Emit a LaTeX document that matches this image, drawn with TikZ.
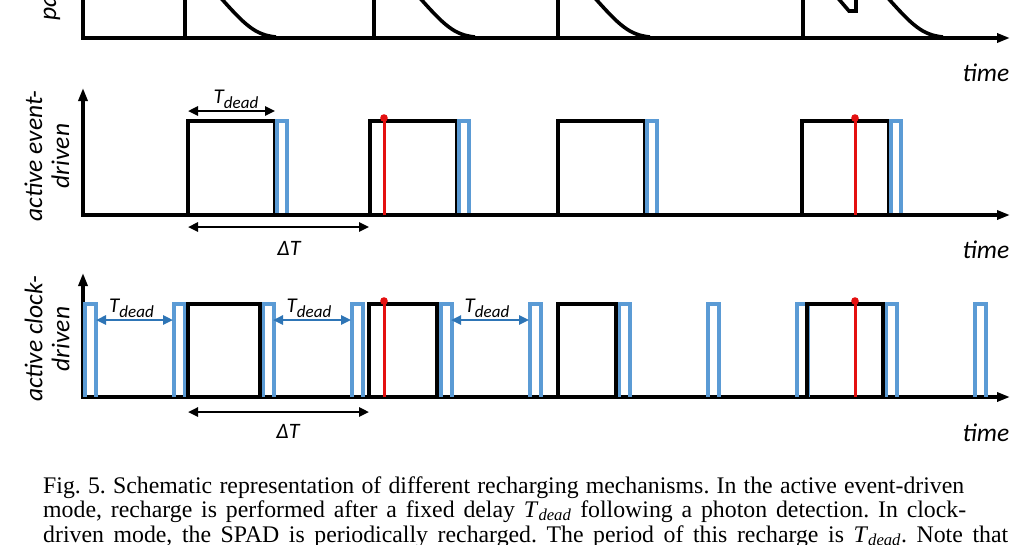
\documentclass[tikz,border=0pt]{standalone}
\usepackage{fontspec}
\setmainfont{Liberation Serif}
\newfontfamily\slidefont{Carlito}
\usetikzlibrary{arrows.meta}
\frenchspacing

\definecolor{rechargeblue}{RGB}{91,155,213}
\definecolor{spanblue}{RGB}{46,117,182}
\definecolor{photonred}{RGB}{228,16,16}

\begin{document}
\begin{tikzpicture}[x=1pt,y=-1pt,
    axes/.style={line width=3.2pt,{Triangle[length=13pt,width=9pt]}-{Triangle[length=13pt,width=9pt]}},
    pulse/.style={line width=3.2pt},
    recharge/.style={line width=3.2pt,rechargeblue},
    photon/.style={line width=3pt,photonred},
    span/.style={line width=2.4pt,{Triangle[length=10pt,width=9pt]}-{Triangle[length=10pt,width=9pt]}},
    axlabel/.style={font=\slidefont\itshape\fontsize{25.5}{27}\selectfont,inner sep=0pt,align=center},
    deadlabel/.style={font=\slidefont\itshape\fontsize{21}{21}\selectfont,inner sep=0pt},
    caption/.style={anchor=base west,inner sep=0pt,font=\fontsize{23.8}{26}\selectfont}]
  \useasboundingbox (0,0) rectangle (1036,544);
  \clip (0,0) rectangle (1036,544);

  % passive quenching
  \draw[line width=3.6pt,-{Triangle[length=13pt,width=9pt]}] (83,-10) |- (1010,38);
  \node[axlabel,rotate=90,anchor=base west] (ylabA) at (56,21) {passive};
  \foreach \s/\c in {185/220, 374/419, 558/594, 803/887} {
    \draw[line width=3.6pt] (\s,36) -- (\s,-5);
    \draw[line width=3.6pt] (\c,-3) .. controls ({\c+25},25) and ({\c+35},35) .. ({\c+56},37);
  }
  \draw[line width=3.6pt] (837,-3) -- (849,11) -- (856,11) -- (856,-3);
  \node[axlabel] (timeA) at (986,73) {time};

  % active event-driven
  \draw[axes] (83,88) -- (83,215) -- (1010,215);
  \node[axlabel,rotate=90] (ylabB) at (47,156) {active event-\\driven};
  \foreach \a/\b in {188/275, 370/457, 558/645, 802/889} {
    \draw[pulse] (\a,215) |- (\b,121) -- (\b,215);
    \draw[recharge] ({\b+2},213) |- ({\b+12},121) -- ({\b+12},213);
  }
  \foreach \p in {384, 855} {
    \draw[photon] (\p,215) -- (\p,120);
    \fill[photonred] (\p,118) circle (3.8);
  }
  \draw[span] (188,111) -- (275,111);
  \node[deadlabel] (tdA) at (236,99) {T\raisebox{-5pt}{\fontsize{17}{17}\selectfont dead}};
  \draw[span] (188,227) -- (369,227);
  \node[deadlabel,font=\slidefont\itshape\fontsize{22}{22}\selectfont] (dtA) at (289,248) {ΔT};
  \node[axlabel] (timeB) at (986,250) {time};

  % active clock-driven
  \draw[axes] (83,273) -- (83,397) -- (1010,397);
  \node[axlabel,rotate=90] (ylabC) at (47,339) {active clock-\\driven};
  \foreach \k in {0,...,10}
    \draw[recharge] ({85+89*\k},397) |- ({96+89*\k},304) -- ({96+89*\k},397);
  \foreach \a/\b in {188/260, 369/437, 558/616, 807/883}
    \draw[pulse] (\a,397) |- (\b,304) -- (\b,397);
  \foreach \p in {384, 855} {
    \draw[photon] (\p,397) -- (\p,303);
    \fill[photonred] (\p,301) circle (3.8);
  }
  \foreach \a/\b/\n in {96/173/1, 273/351/2, 451/529/3} {
    \draw[span,spanblue] (\a,320) -- (\b,320);
    \node[deadlabel] (tdC\n) at ({(\a+\b)/2-3},308) {T\raisebox{-5pt}{\fontsize{17}{17}\selectfont dead}};
  }
  \draw[span] (188,412) -- (369,412);
  \node[deadlabel,font=\slidefont\itshape\fontsize{22}{22}\selectfont] (dtC) at (288,431) {ΔT};
  \node[axlabel] (timeC) at (986,433) {time};

  % caption
  \node[caption] (capA) at (43,493)
    {\makebox[921pt][s]{Fig. 5. Schematic representation of different recharging mechanisms. In the active event-driven}};
  \node[caption] (capB) at (43,517)
    {\makebox[923pt][s]{mode, recharge is performed after a fixed delay \textit{T}\textsubscript{\textit{dead}} following a photon detection. In clock-}};
  \node[caption] (capC) at (43,542)
    {\makebox[965pt][s]{driven mode, the SPAD is periodically recharged. The period of this recharge is \textit{T}\textsubscript{\textit{dead}}. Note that}};
\end{tikzpicture}
\end{document}
